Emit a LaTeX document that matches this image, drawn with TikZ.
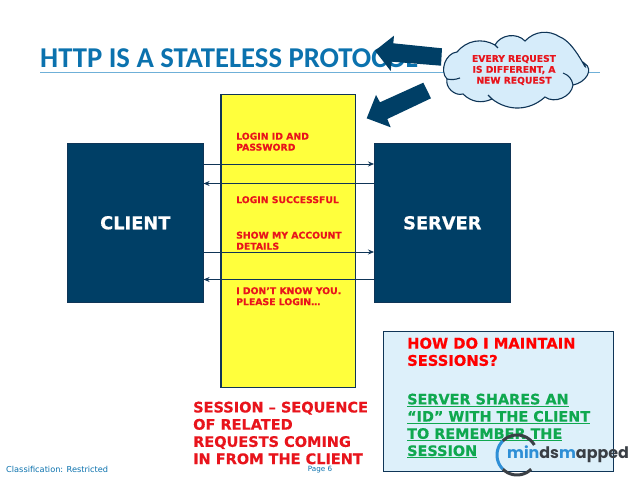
\documentclass[tikz,border=0pt]{standalone}
\usepackage{fontspec}
\setmainfont{DejaVu Sans}[BoldFeatures={FakeBold=0.5}]
\newfontfamily\titlefont{Carlito}
\newfontfamily\logofont{Poppins}
\usetikzlibrary{arrows.meta}
\definecolor{navy}{HTML}{003F66}
\definecolor{outl}{HTML}{0F3557}
\definecolor{titleblue}{HTML}{0B72AE}
\definecolor{rulec}{HTML}{6FB0D8}
\definecolor{pale}{HTML}{DDF0FA}
\definecolor{cloudc}{HTML}{D6ECFA}
\definecolor{hl}{HTML}{FFFF3C}
\definecolor{redt}{HTML}{E8141C}
\definecolor{greent}{HTML}{0FA84F}
\definecolor{logoblue}{HTML}{2E8FD6}
\definecolor{logodark}{HTML}{3A3F45}
\tikzset{
  x=1pt,y=-1pt,
  party/.style={fill=navy,draw=outl,line width=.6pt,inner sep=0,anchor=north west,text=white,font=\bfseries\fontsize{17.8}{20}\selectfont},
  small/.style={anchor=north west,inner sep=0,align=left,text=redt,font=\bfseries\fontsize{9.3}{11}\selectfont},
  big/.style={anchor=north west,inner sep=0,align=left,font=\bfseries\fontsize{14.4}{17.2}\selectfont},
  msg/.style={draw=outl,line width=.7pt,-{Stealth[length=6pt,width=5pt]}},
  blockarrow/.style={fill=navy,draw=none},
  cloudline/.style={draw=outl,line width=1.1pt},
}
\begin{document}
\begin{tikzpicture}
\useasboundingbox (0,0) rectangle (638,478);
\fill[white] (0,0) rectangle (638,478);
% title
\coordinate (ruleL) at (40,72.3);
\coordinate (ruleR) at (600,72.3);
\draw[rulec,line width=.8pt] (ruleL) -- (ruleR);
\node[anchor=west,inner sep=0,text=titleblue,font=\titlefont\bfseries\fontsize{28.7}{32}\selectfont] (title) at (40,58) {HTTP IS A STATELESS PROTOCOL};
% yellow panel
\node[draw=outl,fill=hl,line width=1.2pt,minimum width=134.5pt,minimum height=293pt,inner sep=0,anchor=north west] (panel) at (220.3,94) {};
% parties
\node[party,minimum width=136pt,minimum height=159pt] (client) at (67,143) {CLIENT};
\node[party,minimum width=136pt,minimum height=159pt] (server) at (374,143) {SERVER};
% messages
\draw[msg] (client.east |- 0,164) -- (server.west |- 0,164);
\draw[msg] (server.west |- 0,183.5) -- (client.east |- 0,183.5);
\draw[msg] (client.east |- 0,252) -- (server.west |- 0,252);
\draw[msg] (server.west |- 0,279.5) -- (client.east |- 0,279.5);
% panel text
\node[small] (m1) at (236,132.5) {LOGIN ID AND\\PASSWORD};
\node[small] (m2) at (236,196) {LOGIN SUCCESSFUL};
\node[small] (m3) at (236,231.5) {SHOW MY ACCOUNT\\DETAILS};
\node[small] (m4) at (236,287) {I DON’T KNOW YOU.\\PLEASE LOGIN…};
% block arrows
\fill[blockarrow] (375,50.7) -- (394,35.7) -- (393.3,43.3) -- (442,48.3) -- (441,65.7) -- (391.7,61.7) -- (390.7,71) -- cycle;
\fill[blockarrow] (366.7,118.3) -- (376,95) -- (380,102.3) -- (423.3,82.7) -- (431,98.3) -- (387.3,119) -- (390.7,127.3) -- cycle;
% cloud
\draw[cloudline,fill=cloudc]
  (457,52) to[bend left=40] (495,45) to[bend left=55] (525,41)
  to[bend left=40] (560,37) to[out=-20,in=-70,looseness=1.2] (584,63) to[out=-30,in=10,looseness=1.3] (573,85)
  to[bend left=60] (545,97) to[bend left=40] (492,99) to[bend left=35] (463,94)
  to[bend left=60] (447,79) to[bend left=65] cycle;
\draw[cloudline] (447,79) to[bend right=15] (460,78);
\draw[cloudline] (563,73) to[bend left=30] (573,85);
\draw[cloudline] (495,45) to[bend left=15] (498,48);
\draw[cloudline] (492,99) to[bend left=15] (488,95);
\node[anchor=center,inner sep=0,align=center,text=redt,font=\bfseries\fontsize{9.2}{10.9}\selectfont] (cloudtext) at (514,70) {EVERY REQUEST\\IS DIFFERENT, A\\NEW REQUEST};
% pale box
\node[draw=outl,fill=pale,line width=1.2pt,minimum width=230pt,minimum height=140pt,inner sep=0,anchor=north west] (note) at (383,330.7) {};
\node[big,text=red,font=\bfseries\fontsize{14.7}{17.2}\selectfont] (q) at (407,337.5) {HOW DO I MAINTAIN\\SESSIONS?};
\node[big,text=greent] (a) at (407,393.5) {\underline{SERVER SHARES AN}\\\underline{“ID” WITH THE CLIENT}\\\underline{TO REMEMBER THE}\\\underline{SESSION}};
% session text
\node[big,text=redt,font=\bfseries\fontsize{14.5}{17.2}\selectfont] (sess) at (193,401.5) {SESSION – SEQUENCE\\OF RELATED\\REQUESTS COMING\\IN FROM THE CLIENT};
% footer
\node[anchor=west,inner sep=0,text=titleblue,font=\fontsize{8.2}{10}\selectfont] (cls) at (6,469) {Classification: Restricted};
\node[anchor=center,inner sep=0,text=titleblue,font=\fontsize{7.2}{9}\selectfont] (pg) at (320,469.5) {Page 6};
% logo
\draw[logoblue,line width=3pt] plot[domain=135:225,samples=30] ({517+20*cos(\x)},{455+20*sin(\x)});
\draw[logodark,line width=3pt] plot[domain=225:330,samples=30] ({517+20*cos(\x)},{455+20*sin(\x)});
\draw[logodark,line width=3pt] plot[domain=45:135,samples=30] ({517+20*cos(\x)},{455+20*sin(\x)});
\node[anchor=west,inner sep=0,font=\logofont\bfseries\fontsize{15.9}{18}\selectfont] (logo) at (507,454) {\textcolor{logoblue}{min}\textcolor{logodark}{ds}\textcolor{logoblue}{m}\textcolor{logodark}{apped}};
\end{tikzpicture}
\end{document}
